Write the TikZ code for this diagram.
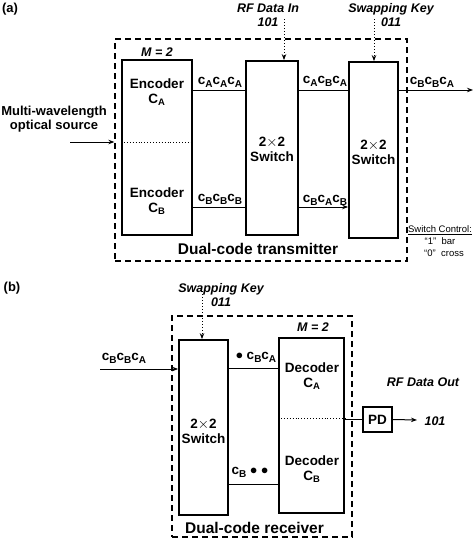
\documentclass[tikz,border=0pt]{standalone}
\usepackage{fontspec}
\setmainfont{Liberation Sans}
\usetikzlibrary{arrows.meta}
\newcommand{\cd}[1]{c{\fontsize{10}{10}\selectfont\raisebox{-2.8pt}{#1}}}
\newcommand{\bigfont}{\fontsize{13.5}{15}\selectfont\bfseries}

\begin{document}
\begin{tikzpicture}[x=1pt,y=-1pt,
    blk/.style={draw,line width=1.8pt,inner sep=0pt},
    frame/.style={draw,line width=1.3pt,dash pattern=on 6pt off 4pt,inner sep=0pt},
    lbl/.style={align=center,font=\bigfont,inner sep=1pt},
    tag/.style={lbl,font=\fontsize{12.5}{14}\selectfont\bfseries\itshape}]
\useasboundingbox (0,0) rectangle (474,539);

% (a) transmitter
\begin{scope}[every node/.style={blk}]
  \node[frame,minimum width=292pt,minimum height=222pt] (tx) at (261,150) {};
  \node[minimum width=70pt,minimum height=175pt] (enc) at (157,147.5) {};
  \node[minimum width=52pt,minimum height=174pt] (sw1) at (272,148) {};
  \node[minimum width=49pt,minimum height=176pt] (sw2) at (373.5,150) {};
\end{scope}
\coordinate (r1) at (0,90);
\coordinate (r2) at (0,207);
\coordinate (src) at (70,142);
\coordinate (out) at (473,90);
\coordinate (rfin) at (284,19);
\coordinate (key1) at (374,19);

\node[lbl,font=\fontsize{13}{15}\selectfont\bfseries] (la) at (10,9) {(a)};
\node[lbl,font=\fontsize{13}{14}\selectfont\bfseries] (srcl) at (54,119) {Multi-wavelength\\optical source};
\node[tag] (rfl) at (268,15.5) {RF Data In\\101};
\node[tag] (keyl) at (391,15.5) {Swapping Key\\011};
\node[tag] (m1) at (157,52) {M = 2};
\node[lbl] (enca) at (157,92.5) {Encoder\\C\textsubscript{A}};
\node[lbl] (encb) at (157,201.5) {Encoder\\C\textsubscript{B}};
\node[lbl] (sw1l) at (272,149) {2$\times$2\\Switch};
\node[lbl] (sw2l) at (373.5,152.5) {2$\times$2\\Switch};
\node[lbl] (c1) at (220,82) {\cd{A}\cd{A}\cd{A}};
\node[lbl] (c2) at (325,81) {\cd{A}\cd{B}\cd{A}};
\node[lbl] (c3) at (432,82) {\cd{B}\cd{B}\cd{A}};
\node[lbl] (c4) at (220,199) {\cd{B}\cd{B}\cd{B}};
\node[lbl] (c5) at (325,200) {\cd{B}\cd{A}\cd{B}};
\node[lbl,font=\fontsize{15.5}{17}\selectfont\bfseries] (txl) at (258,249) {Dual-code transmitter};
\node[align=center,font=\fontsize{9.5}{12}\selectfont,inner sep=0pt] (ctl) at (440,241)
  {\underline{Switch Control:}\\“1”\ \ bar\\\hspace*{8pt}“0”\ \ cross};

\draw[line width=0.9pt,dotted] (enc.west |- src) -- (enc.east |- src);
\begin{scope}[>={Stealth[length=6pt,width=4.5pt]},
              every edge/.style={draw=black,line width=1pt}]
  \path[->] (src) edge (tx.west |- src);
  \path (enc.east |- r1) edge (sw1.west |- r1);
  \path (enc.east |- r2) edge (sw1.west |- r2);
  \path (sw1.east |- r1) edge (sw2.west |- r1);
  \path[->] (sw1.east |- r2) edge (sw2.west |- r2);
  \path[->] (sw2.east |- r1) edge (out);
  \path[->] (rfin) edge[dotted] (rfin |- sw1.north);
  \path[->] (key1) edge[dotted] (key1 |- sw2.north);
\end{scope}

% (b) receiver
\begin{scope}[every node/.style={blk}]
  \node[frame,minimum width=180pt,minimum height=221pt] (rx) at (262,426.5) {};
  \node[minimum width=49pt,minimum height=175pt] (swr) at (203.5,427.5) {};
  \node[minimum width=65pt,minimum height=175pt] (dec) at (311.5,425.5) {};
  \node[minimum width=29pt,minimum height=25pt] (pd) at (377.5,419.5) {};
\end{scope}
\coordinate (s1) at (0,368);
\coordinate (s2) at (0,484);
\coordinate (rin) at (100,369);
\coordinate (key2) at (202,291);
\coordinate (rfo) at (417,420);

\node[lbl,font=\fontsize{13}{15}\selectfont\bfseries] (lb) at (12,288) {(b)};
\node[tag] (key2l) at (221,295.5) {Swapping Key\\011};
\node[tag] (m2) at (313,327) {M = 2};
\node[lbl] (c6) at (124,358) {\cd{B}\cd{B}\cd{A}};
\node[lbl] (c7) at (256,357) {$\bullet$ \cd{B}\cd{A}};
\node[lbl] (c8) at (250,472) {\cd{B} $\bullet$ $\bullet$};
\node[lbl] (swrl) at (203.5,431) {2$\times$2\\Switch};
\node[lbl] (deca) at (312,376) {Decoder\\C\textsubscript{A}};
\node[lbl] (decb) at (312,469) {Decoder\\C\textsubscript{B}};
\node[lbl,inner sep=0pt] (pdl) at (pd) {PD};
\node[tag] (rfol) at (423,382) {RF Data Out};
\node[tag] (outl) at (435,421) {101};
\node[lbl,font=\fontsize{15.5}{17}\selectfont\bfseries] (rxl) at (254.5,527.5) {Dual-code receiver};

\draw[line width=0.9pt,dotted] (dec.west |- 0,418) -- (dec.east |- 0,418);
\begin{scope}[>={Stealth[length=6pt,width=4.5pt]},
              every edge/.style={draw=black,line width=1pt}]
  \path[->] (rin) edge (swr.west |- rin);
  \path (swr.east |- s1) edge (dec.west |- s1);
  \path (swr.east |- s2) edge (dec.west |- s2);
  \path (dec.east |- pd) edge (pd.west);
  \path[->] (pd.east) edge (rfo);
  \path[->] (key2) edge[dotted] (key2 |- swr.north);
\end{scope}
\end{tikzpicture}
\end{document}
